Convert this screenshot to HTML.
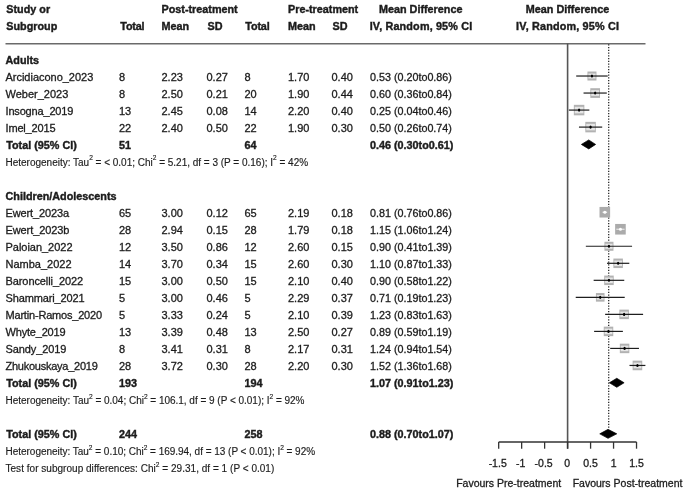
<!DOCTYPE html>
<html><head><meta charset="utf-8"><title>Forest plot</title><style>
html,body{margin:0;padding:0;background:#fff;}
body{width:685px;height:494px;overflow:hidden;}
svg{display:block;}
text{font-family:"Liberation Sans",Arial,sans-serif;fill:#1c1c1c;}
.r{font-size:11px;}
.b{font-size:10.8px;font-weight:bold;stroke-width:0.4px !important;}
.h{font-size:10px;stroke-width:0.15px !important;}
.ax{font-size:10.5px;}
.md{font-size:10.75px;}
text{stroke:#1c1c1c;stroke-width:0.3px;}
.sup{font-size:6.6px;}
</style></head>
<body><svg width="685" height="494" viewBox="0 0 685 494">
<rect width="685" height="494" fill="#fff"/>
<line x1="5.5" y1="43.8" x2="645.5" y2="43.8" stroke="#6a6a6a" stroke-width="1.6"/>
<line x1="567.60" y1="43.5" x2="567.60" y2="448.7" stroke="#555" stroke-width="1.6"/>
<line x1="608.7" y1="44.2" x2="608.7" y2="428.95" stroke="#222" stroke-width="1.25" stroke-dasharray="1.4,1.35"/>
<line x1="498.68" y1="442" x2="636.53" y2="442" stroke="#333" stroke-width="1.3"/>
<line x1="498.68" y1="442" x2="498.68" y2="448.7" stroke="#333" stroke-width="1.3"/>
<line x1="521.65" y1="442" x2="521.65" y2="448.7" stroke="#333" stroke-width="1.3"/>
<line x1="544.62" y1="442" x2="544.62" y2="448.7" stroke="#333" stroke-width="1.3"/>
<line x1="567.60" y1="442" x2="567.60" y2="448.7" stroke="#333" stroke-width="1.3"/>
<line x1="590.58" y1="442" x2="590.58" y2="448.7" stroke="#333" stroke-width="1.3"/>
<line x1="613.55" y1="442" x2="613.55" y2="448.7" stroke="#333" stroke-width="1.3"/>
<line x1="636.53" y1="442" x2="636.53" y2="448.7" stroke="#333" stroke-width="1.3"/>
<rect x="587.45" y="71.52" width="9" height="9" fill="#b2b2b2"/>
<rect x="588.35" y="73.52" width="7.20" height="5" fill="#e6e6e6"/>
<line x1="576.79" y1="76.02" x2="607.12" y2="76.02" stroke="#1e1e1e" stroke-width="1.2" stroke-linecap="square"/>
<ellipse cx="591.95" cy="76.02" rx="1.15" ry="1.55" fill="#000"/>
<rect x="590.32" y="88.20" width="9.7" height="9.7" fill="#b2b2b2"/>
<rect x="591.22" y="90.20" width="7.90" height="5.699999999999999" fill="#e6e6e6"/>
<line x1="584.14" y1="93.05" x2="606.20" y2="93.05" stroke="#1e1e1e" stroke-width="1.2" stroke-linecap="square"/>
<ellipse cx="595.17" cy="93.05" rx="1.15" ry="1.55" fill="#000"/>
<rect x="573.84" y="104.83" width="10.5" height="10.5" fill="#b2b2b2"/>
<rect x="574.74" y="106.83" width="8.70" height="6.5" fill="#e6e6e6"/>
<line x1="569.44" y1="110.08" x2="588.74" y2="110.08" stroke="#1e1e1e" stroke-width="1.2" stroke-linecap="square"/>
<ellipse cx="579.09" cy="110.08" rx="1.15" ry="1.55" fill="#000"/>
<rect x="585.33" y="121.85" width="10.5" height="10.5" fill="#b2b2b2"/>
<rect x="586.23" y="123.85" width="8.70" height="6.5" fill="#e6e6e6"/>
<line x1="579.55" y1="127.10" x2="601.60" y2="127.10" stroke="#1e1e1e" stroke-width="1.2" stroke-linecap="square"/>
<ellipse cx="590.58" cy="127.10" rx="1.15" ry="1.55" fill="#000"/>
<polygon points="581.38,144.43 588.74,139.93 595.63,144.43 588.74,148.93" fill="#000" stroke="#000" stroke-width="0.7" stroke-linejoin="miter"/>
<rect x="599.52" y="206.93" width="10.6" height="10.6" fill="#ababab"/>
<line x1="602.52" y1="212.23" x2="607.12" y2="212.23" stroke="#e8e8e8" stroke-width="1.2"/>
<ellipse cx="604.82" cy="212.23" rx="1.5" ry="1.5" fill="#fff"/>
<rect x="615.14" y="223.95" width="10.6" height="10.6" fill="#ababab"/>
<line x1="616.31" y1="229.25" x2="624.58" y2="229.25" stroke="#e8e8e8" stroke-width="1.2"/>
<ellipse cx="620.44" cy="229.25" rx="1.5" ry="1.5" fill="#fff"/>
<rect x="604.46" y="241.77" width="9" height="9" fill="#b2b2b2"/>
<rect x="605.36" y="243.77" width="7.20" height="5" fill="#e6e6e6"/>
<line x1="586.44" y1="246.27" x2="631.47" y2="246.27" stroke="#1e1e1e" stroke-width="1.2" stroke-linecap="square"/>
<ellipse cx="608.96" cy="246.27" rx="1.15" ry="1.55" fill="#000"/>
<rect x="613.39" y="258.55" width="9.5" height="9.5" fill="#b2b2b2"/>
<rect x="614.29" y="260.55" width="7.70" height="5.5" fill="#e6e6e6"/>
<line x1="607.58" y1="263.30" x2="628.71" y2="263.30" stroke="#1e1e1e" stroke-width="1.2" stroke-linecap="square"/>
<ellipse cx="618.14" cy="263.30" rx="1.15" ry="1.55" fill="#000"/>
<rect x="604.21" y="275.57" width="9.5" height="9.5" fill="#b2b2b2"/>
<rect x="605.11" y="277.57" width="7.70" height="5.5" fill="#e6e6e6"/>
<line x1="594.25" y1="280.32" x2="623.66" y2="280.32" stroke="#1e1e1e" stroke-width="1.2" stroke-linecap="square"/>
<ellipse cx="608.96" cy="280.32" rx="1.15" ry="1.55" fill="#000"/>
<rect x="595.92" y="293.05" width="8.6" height="8.6" fill="#b2b2b2"/>
<rect x="596.82" y="295.05" width="6.80" height="4.6" fill="#e6e6e6"/>
<line x1="576.33" y1="297.35" x2="624.12" y2="297.35" stroke="#1e1e1e" stroke-width="1.2" stroke-linecap="square"/>
<ellipse cx="600.22" cy="297.35" rx="1.15" ry="1.55" fill="#000"/>
<rect x="619.37" y="309.62" width="9.5" height="9.5" fill="#b2b2b2"/>
<rect x="620.27" y="311.62" width="7.70" height="5.5" fill="#e6e6e6"/>
<line x1="605.74" y1="314.38" x2="642.50" y2="314.38" stroke="#1e1e1e" stroke-width="1.2" stroke-linecap="square"/>
<ellipse cx="624.12" cy="314.38" rx="1.15" ry="1.55" fill="#000"/>
<rect x="603.75" y="326.65" width="9.5" height="9.5" fill="#b2b2b2"/>
<rect x="604.65" y="328.65" width="7.70" height="5.5" fill="#e6e6e6"/>
<line x1="594.71" y1="331.40" x2="622.28" y2="331.40" stroke="#1e1e1e" stroke-width="1.2" stroke-linecap="square"/>
<ellipse cx="608.50" cy="331.40" rx="1.15" ry="1.55" fill="#000"/>
<rect x="619.83" y="343.67" width="9.5" height="9.5" fill="#b2b2b2"/>
<rect x="620.73" y="345.67" width="7.70" height="5.5" fill="#e6e6e6"/>
<line x1="610.79" y1="348.42" x2="638.36" y2="348.42" stroke="#1e1e1e" stroke-width="1.2" stroke-linecap="square"/>
<ellipse cx="624.58" cy="348.42" rx="1.15" ry="1.55" fill="#000"/>
<rect x="632.64" y="360.65" width="9.6" height="9.6" fill="#b2b2b2"/>
<rect x="633.54" y="362.65" width="7.80" height="5.6" fill="#e6e6e6"/>
<line x1="630.09" y1="365.45" x2="644.80" y2="365.45" stroke="#1e1e1e" stroke-width="1.2" stroke-linecap="square"/>
<ellipse cx="637.44" cy="365.45" rx="1.15" ry="1.55" fill="#000"/>
<polygon points="609.41,382.77 616.77,378.27 624.12,382.77 616.77,387.27" fill="#000" stroke="#000" stroke-width="0.7" stroke-linejoin="miter"/>
<polygon points="599.76,433.85 608.04,429.35 616.77,433.85 608.04,438.35" fill="#000" stroke="#000" stroke-width="0.7" stroke-linejoin="miter"/>
<text x="6.30" y="12.63" class="b">Study or</text>
<text x="6.30" y="29.65" class="b">Subgroup</text>
<text x="161.50" y="12.63" class="b">Post-treatment</text>
<text x="120.30" y="29.65" class="b" textLength="24.2" lengthAdjust="spacing">Total</text>
<text x="161.50" y="29.65" class="b">Mean</text>
<text x="207.50" y="29.65" class="b">SD</text>
<text x="245.30" y="29.65" class="b" textLength="24.4" lengthAdjust="spacing">Total</text>
<text x="288.00" y="12.63" class="b">Pre-treatment</text>
<text x="288.00" y="29.65" class="b">Mean</text>
<text x="332.50" y="29.65" class="b">SD</text>
<text x="420.70" y="12.63" class="b" text-anchor="middle">Mean Difference</text>
<text x="420.90" y="29.65" class="b" text-anchor="middle" textLength="102.5" lengthAdjust="spacing">IV, Random, 95% CI</text>
<text x="567.50" y="12.63" class="b" text-anchor="middle">Mean Difference</text>
<text x="567.50" y="29.65" class="b" text-anchor="middle" textLength="102.8" lengthAdjust="spacing">IV, Random, 95% CI</text>
<text x="5.50" y="63.70" class="b">Adults</text>
<text x="5.50" y="80.72" class="r" textLength="87.8" lengthAdjust="spacing">Arcidiacono_2023</text>
<text x="119.00" y="80.72" class="r">8</text>
<text x="161.50" y="80.72" class="r">2.23</text>
<text x="206.50" y="80.72" class="r">0.27</text>
<text x="244.50" y="80.72" class="r">8</text>
<text x="288.00" y="80.72" class="r">1.70</text>
<text x="331.50" y="80.72" class="r">0.40</text>
<text x="370.00" y="80.72" class="md">0.53 (0.20to0.86)</text>
<text x="5.50" y="97.75" class="r" textLength="62.8" lengthAdjust="spacing">Weber_2023</text>
<text x="119.00" y="97.75" class="r">8</text>
<text x="161.50" y="97.75" class="r">2.50</text>
<text x="206.50" y="97.75" class="r">0.21</text>
<text x="244.50" y="97.75" class="r">20</text>
<text x="288.00" y="97.75" class="r">1.90</text>
<text x="331.50" y="97.75" class="r">0.44</text>
<text x="370.00" y="97.75" class="md">0.60 (0.36to0.84)</text>
<text x="5.50" y="114.78" class="r" textLength="67.9" lengthAdjust="spacing">Insogna_2019</text>
<text x="119.00" y="114.78" class="r">13</text>
<text x="161.50" y="114.78" class="r">2.45</text>
<text x="206.50" y="114.78" class="r">0.08</text>
<text x="244.50" y="114.78" class="r">14</text>
<text x="288.00" y="114.78" class="r">2.20</text>
<text x="331.50" y="114.78" class="r">0.40</text>
<text x="370.00" y="114.78" class="md">0.25 (0.04to0.46)</text>
<text x="5.50" y="131.80" class="r" textLength="50.0" lengthAdjust="spacing">Imel_2015</text>
<text x="119.00" y="131.80" class="r">22</text>
<text x="161.50" y="131.80" class="r">2.40</text>
<text x="206.50" y="131.80" class="r">0.50</text>
<text x="244.50" y="131.80" class="r">22</text>
<text x="288.00" y="131.80" class="r">1.90</text>
<text x="331.50" y="131.80" class="r">0.30</text>
<text x="370.00" y="131.80" class="md">0.50 (0.26to0.74)</text>
<text x="6.20" y="148.82" class="b">Total (95% CI)</text>
<text x="119.00" y="148.82" class="b">51</text>
<text x="244.50" y="148.82" class="b">64</text>
<text x="370.00" y="148.82" class="b">0.46 (0.30to0.61)</text>
<text x="5.50" y="165.85" class="h" textLength="302.6" lengthAdjust="spacing">Heterogeneity: Tau<tspan class="sup" dy="-5.6">2</tspan><tspan dy="5.6"> = &lt; 0.01; Chi</tspan><tspan class="sup" dy="-5.6">2</tspan><tspan dy="5.6"> = 5.21, df = 3 (P = 0.16); I</tspan><tspan class="sup" dy="-5.6">2</tspan><tspan dy="5.6"> = 42%</tspan></text>
<text x="5.50" y="199.90" class="b">Children/Adolescents</text>
<text x="5.50" y="216.93" class="r" textLength="63.6" lengthAdjust="spacing">Ewert_2023a</text>
<text x="119.00" y="216.93" class="r">65</text>
<text x="161.50" y="216.93" class="r">3.00</text>
<text x="206.50" y="216.93" class="r">0.12</text>
<text x="244.50" y="216.93" class="r">65</text>
<text x="288.00" y="216.93" class="r">2.19</text>
<text x="331.50" y="216.93" class="r">0.18</text>
<text x="370.00" y="216.93" class="md">0.81 (0.76to0.86)</text>
<text x="5.50" y="233.95" class="r" textLength="63.9" lengthAdjust="spacing">Ewert_2023b</text>
<text x="119.00" y="233.95" class="r">28</text>
<text x="161.50" y="233.95" class="r">2.94</text>
<text x="206.50" y="233.95" class="r">0.15</text>
<text x="244.50" y="233.95" class="r">28</text>
<text x="288.00" y="233.95" class="r">1.79</text>
<text x="331.50" y="233.95" class="r">0.18</text>
<text x="370.00" y="233.95" class="md">1.15 (1.06to1.24)</text>
<text x="5.50" y="250.97" class="r" textLength="67.0" lengthAdjust="spacing">Paloian_2022</text>
<text x="119.00" y="250.97" class="r">12</text>
<text x="161.50" y="250.97" class="r">3.50</text>
<text x="206.50" y="250.97" class="r">0.86</text>
<text x="244.50" y="250.97" class="r">12</text>
<text x="288.00" y="250.97" class="r">2.60</text>
<text x="331.50" y="250.97" class="r">0.15</text>
<text x="370.00" y="250.97" class="md">0.90 (0.41to1.39)</text>
<text x="5.50" y="268.00" class="r" textLength="66.0" lengthAdjust="spacing">Namba_2022</text>
<text x="119.00" y="268.00" class="r">14</text>
<text x="161.50" y="268.00" class="r">3.70</text>
<text x="206.50" y="268.00" class="r">0.34</text>
<text x="244.50" y="268.00" class="r">15</text>
<text x="288.00" y="268.00" class="r">2.60</text>
<text x="331.50" y="268.00" class="r">0.30</text>
<text x="370.00" y="268.00" class="md">1.10 (0.87to1.33)</text>
<text x="5.50" y="285.02" class="r" textLength="77.7" lengthAdjust="spacing">Baroncelli_2022</text>
<text x="119.00" y="285.02" class="r">15</text>
<text x="161.50" y="285.02" class="r">3.00</text>
<text x="206.50" y="285.02" class="r">0.50</text>
<text x="244.50" y="285.02" class="r">15</text>
<text x="288.00" y="285.02" class="r">2.10</text>
<text x="331.50" y="285.02" class="r">0.40</text>
<text x="370.00" y="285.02" class="md">0.90 (0.58to1.22)</text>
<text x="5.50" y="302.05" class="r" textLength="79.0" lengthAdjust="spacing">Shammari_2021</text>
<text x="119.00" y="302.05" class="r">5</text>
<text x="161.50" y="302.05" class="r">3.00</text>
<text x="206.50" y="302.05" class="r">0.46</text>
<text x="244.50" y="302.05" class="r">5</text>
<text x="288.00" y="302.05" class="r">2.29</text>
<text x="331.50" y="302.05" class="r">0.37</text>
<text x="370.00" y="302.05" class="md">0.71 (0.19to1.23)</text>
<text x="5.50" y="319.07" class="r" textLength="96.6" lengthAdjust="spacing">Martin-Ramos_2020</text>
<text x="119.00" y="319.07" class="r">5</text>
<text x="161.50" y="319.07" class="r">3.33</text>
<text x="206.50" y="319.07" class="r">0.24</text>
<text x="244.50" y="319.07" class="r">5</text>
<text x="288.00" y="319.07" class="r">2.10</text>
<text x="331.50" y="319.07" class="r">0.39</text>
<text x="370.00" y="319.07" class="md">1.23 (0.83to1.63)</text>
<text x="5.50" y="336.10" class="r" textLength="60.1" lengthAdjust="spacing">Whyte_2019</text>
<text x="119.00" y="336.10" class="r">13</text>
<text x="161.50" y="336.10" class="r">3.39</text>
<text x="206.50" y="336.10" class="r">0.48</text>
<text x="244.50" y="336.10" class="r">13</text>
<text x="288.00" y="336.10" class="r">2.50</text>
<text x="331.50" y="336.10" class="r">0.27</text>
<text x="370.00" y="336.10" class="md">0.89 (0.59to1.19)</text>
<text x="5.50" y="353.12" class="r" textLength="60.8" lengthAdjust="spacing">Sandy_2019</text>
<text x="119.00" y="353.12" class="r">8</text>
<text x="161.50" y="353.12" class="r">3.41</text>
<text x="206.50" y="353.12" class="r">0.31</text>
<text x="244.50" y="353.12" class="r">8</text>
<text x="288.00" y="353.12" class="r">2.17</text>
<text x="331.50" y="353.12" class="r">0.31</text>
<text x="370.00" y="353.12" class="md">1.24 (0.94to1.54)</text>
<text x="5.50" y="370.15" class="r" textLength="92.3" lengthAdjust="spacing">Zhukouskaya_2019</text>
<text x="119.00" y="370.15" class="r">28</text>
<text x="161.50" y="370.15" class="r">3.72</text>
<text x="206.50" y="370.15" class="r">0.30</text>
<text x="244.50" y="370.15" class="r">28</text>
<text x="288.00" y="370.15" class="r">2.20</text>
<text x="331.50" y="370.15" class="r">0.30</text>
<text x="370.00" y="370.15" class="md">1.52 (1.36to1.68)</text>
<text x="6.20" y="387.17" class="b">Total (95% CI)</text>
<text x="119.00" y="387.17" class="b">193</text>
<text x="244.50" y="387.17" class="b">194</text>
<text x="370.00" y="387.17" class="b">1.07 (0.91to1.23)</text>
<text x="5.50" y="404.20" class="h" textLength="299.0" lengthAdjust="spacing">Heterogeneity: Tau<tspan class="sup" dy="-5.6">2</tspan><tspan dy="5.6"> = 0.04; Chi</tspan><tspan class="sup" dy="-5.6">2</tspan><tspan dy="5.6"> = 106.1, df = 9 (P &lt; 0.01); I</tspan><tspan class="sup" dy="-5.6">2</tspan><tspan dy="5.6"> = 92%</tspan></text>
<text x="6.20" y="438.25" class="b">Total (95% CI)</text>
<text x="119.00" y="438.25" class="b">244</text>
<text x="244.50" y="438.25" class="b">258</text>
<text x="370.00" y="438.25" class="b">0.88 (0.70to1.07)</text>
<text x="5.50" y="455.27" class="h" textLength="309.6" lengthAdjust="spacing">Heterogeneity: Tau<tspan class="sup" dy="-5.6">2</tspan><tspan dy="5.6"> = 0.10; Chi</tspan><tspan class="sup" dy="-5.6">2</tspan><tspan dy="5.6"> = 169.94, df = 13 (P &lt; 0.01); I</tspan><tspan class="sup" dy="-5.6">2</tspan><tspan dy="5.6"> = 92%</tspan></text>
<text x="5.50" y="472.30" class="h" textLength="268.8" lengthAdjust="spacing">Test for subgroup differences: Chi<tspan class="sup" dy="-5.6">2</tspan><tspan dy="5.6"> = 29.31, df = 1 (P &lt; 0.01)</tspan></text>
<text x="497.68" y="466.60" class="ax" text-anchor="middle">-1.5</text>
<text x="520.65" y="466.60" class="ax" text-anchor="middle">-1</text>
<text x="543.62" y="466.60" class="ax" text-anchor="middle">-0.5</text>
<text x="567.20" y="466.60" class="ax" text-anchor="middle">0</text>
<text x="590.58" y="466.60" class="ax" text-anchor="middle">0.5</text>
<text x="613.55" y="466.60" class="ax" text-anchor="middle">1</text>
<text x="636.53" y="466.60" class="ax" text-anchor="middle">1.5</text>
<text x="561.20" y="487.20" class="ax" text-anchor="end">Favours Pre-treatment</text>
<text x="572.70" y="487.20" class="ax">Favours Post-treatment</text>
</svg></body></html>
